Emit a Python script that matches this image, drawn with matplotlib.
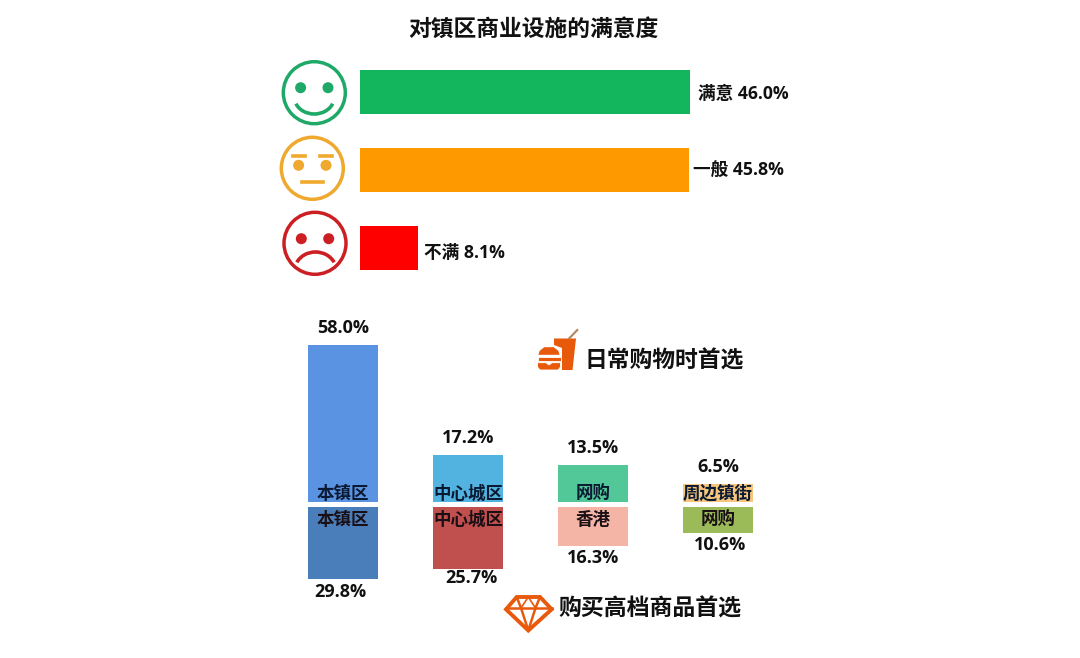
import matplotlib
matplotlib.use("Agg")
import matplotlib.pyplot as plt
from matplotlib.patches import Arc, Circle, Polygon

plt.rcParams['font.family'] = ['Open Sans', 'Noto Sans CJK SC', 'DejaVu Sans']
plt.rcParams['font.weight'] = 'bold'

# Satisfaction bars
sat_labels = ["满意", "一般", "不满"]
sat_values = [46.0, 45.8, 8.1]
sat_colors = ["#13B55D", "#FF9900", "#FF0000"]
sat_dx = [8, 4, 6]
sat_dy = [2, 1, 5]

# Daily shopping (upward) and high-end shopping (downward)
daily_labels = ["本镇区", "中心城区", "网购", "周边镇街"]
daily_values = [58.0, 17.2, 13.5, 6.5]
daily_colors = ["#5B93E3", "#52B3E0", "#52C797", "#F7C67C"]
luxury_labels = ["本镇区", "中心城区", "香港", "网购"]
luxury_values = [29.8, 25.7, 16.3, 10.6]
luxury_colors = ["#4A7EBB", "#C0504D", "#F4B5A7", "#9BBB59"]
luxury_dx = [-3, 3, 0, 2]
luxury_dy = [13, 9, 12, 12]

W, H = 1080, 658
PX = 72 / 100  # pixels to points

fig = plt.figure(figsize=(W / 100, H / 100), dpi=100, facecolor="white")


def px_axes(left, top, right, bottom):
    ax = fig.add_axes([left / W, 1 - bottom / H, (right - left) / W, (bottom - top) / H])
    ax.axis("off")
    return ax


# Part 1 - satisfaction
ax = px_axes(360, 53, 690, 287)
ax.barh(range(3), sat_values, height=44 / 78, color=sat_colors)
ax.set_xlim(0, 46.0)
ax.set_ylim(2.5, -0.5)
for i in range(3):
    ax.annotate(f"{sat_labels[i]} {sat_values[i]:.1f}%", xy=(sat_values[i], i),
                xytext=(sat_dx[i] * PX, -sat_dy[i] * PX), textcoords="offset points",
                ha="left", va="center", fontsize=12.7, color="#111111", annotation_clip=False)

# Part 2 - bars going up
ax = px_axes(280.5, 345, 780.5, 502)
ax.bar(range(4), daily_values, width=0.56, color=daily_colors)
ax.set_xlim(-0.5, 3.5)
ax.set_ylim(0, 58.0)
for i in range(4):
    ax.annotate(f"{daily_values[i]:.1f}%", xy=(i, daily_values[i]), xytext=(0, 17 * PX),
                textcoords="offset points", ha="center", va="center", fontsize=13,
                color="#111111", annotation_clip=False)
    ax.annotate(daily_labels[i], xy=(i, 0), xytext=(0, 8 * PX), textcoords="offset points",
                ha="center", va="center", fontsize=12.6, color="#0B1A33", annotation_clip=False)

# Part 3 - bars going down
ax = px_axes(280.5, 507, 780.5, 579)
ax.bar(range(4), luxury_values, width=0.56, color=luxury_colors)
ax.set_xlim(-0.5, 3.5)
ax.set_ylim(29.8, 0)
for i in range(4):
    ax.annotate(f"{luxury_values[i]:.1f}%", xy=(i, luxury_values[i]),
                xytext=(luxury_dx[i] * PX, -luxury_dy[i] * PX), textcoords="offset points",
                ha="center", va="center", fontsize=13, color="#111111", annotation_clip=False)
    ax.annotate(luxury_labels[i], xy=(i, 0), xytext=(0, -13 * PX), textcoords="offset points",
                ha="center", va="center", fontsize=12.6, color="#1A0F14", annotation_clip=False)

# Overlay in pixel coordinates for the title and the icons
ov = fig.add_axes([0, 0, 1, 1], zorder=5)
ov.set_xlim(0, W)
ov.set_ylim(H, 0)
ov.axis("off")
ov.patch.set_alpha(0)

ov.text(533, 30, "对镇区商业设施的满意度", ha="center", va="center", fontsize=16.4, color="#111111")
ov.text(664.5, 361, "日常购物时首选", ha="center", va="center", fontsize=16.4, color="#111111")
ov.text(650, 609.5, "购买高档商品首选", ha="center", va="center", fontsize=16.5, color="#111111")


def face(cx, cy, color, eye_dy):
    ov.add_patch(Circle((cx, cy), 31, fill=False, ec=color, lw=2.5))
    ov.add_patch(Circle((cx - 13.7, cy + eye_dy), 5.5, fc=color, ec="none"))
    ov.add_patch(Circle((cx + 13.7, cy + eye_dy), 5.5, fc=color, ec="none"))


GREEN = "#1FA968"
AMBER = "#EFA92F"
CRED = "#CC1F24"
ORANGE = "#E8590C"

face(314.3, 92.7, GREEN, -5)
ov.add_patch(Arc((314.3, 97), 40, 34, theta1=20, theta2=160, color=GREEN, lw=2.6))

face(312.3, 168.3, AMBER, -3)
ov.plot([292.7, 305], [155.7, 155.7], color=AMBER, lw=2.6)
ov.plot([320, 332], [155.7, 155.7], color=AMBER, lw=2.6)
ov.plot([301.7, 322.7], [182.3, 182.3], color=AMBER, lw=2.6)

face(315, 243.3, CRED, -4.6)
ov.add_patch(Arc((315.5, 271), 42, 38, theta1=205, theta2=335, color=CRED, lw=2.6))

# Burger and drink
ov.add_patch(Polygon([(554, 338.5), (576, 338.5), (572.5, 370), (562, 370), (562, 348), (554, 345)],
                     fc=ORANGE, ec="none"))
ov.plot([569.3, 577.3], [338.3, 330], color="#B5835A", lw=1.5)
ov.add_patch(Polygon([(537.5, 355.5), (539, 350.5), (544, 346.5), (554, 346.5), (559, 350.5), (560.5, 355.5)],
                     fc=ORANGE, ec="white", lw=1))
ov.add_patch(Polygon([(537.5, 357.3), (560.5, 357.3), (560.5, 360.7), (537.5, 360.7)],
                     fc=ORANGE, ec="white", lw=0.6))
ov.add_patch(Polygon([(537.5, 362.7), (546, 362.7), (549, 365), (552, 362.7), (560.5, 362.7),
                      (560.5, 367), (558, 370), (540, 370), (537.5, 367)], fc=ORANGE, ec="white", lw=0.6))

# Diamond
ov.add_patch(Polygon([(506, 609.3), (516.7, 597), (540, 597), (551.7, 609.3), (528.3, 630.5)],
                     fill=False, ec=ORANGE, lw=2.8, joinstyle="miter"))
ov.plot([506, 551.7], [608, 608], color=ORANGE, lw=1.8)
ov.plot([516.7, 521, 528.3, 535.5, 540], [597, 608, 630.5, 608, 597], color=ORANGE, lw=1.8)
ov.plot([521, 528.3, 535.5], [608, 597, 608], color=ORANGE, lw=1.2)

fig.savefig("out.png", dpi=100, facecolor="white")
